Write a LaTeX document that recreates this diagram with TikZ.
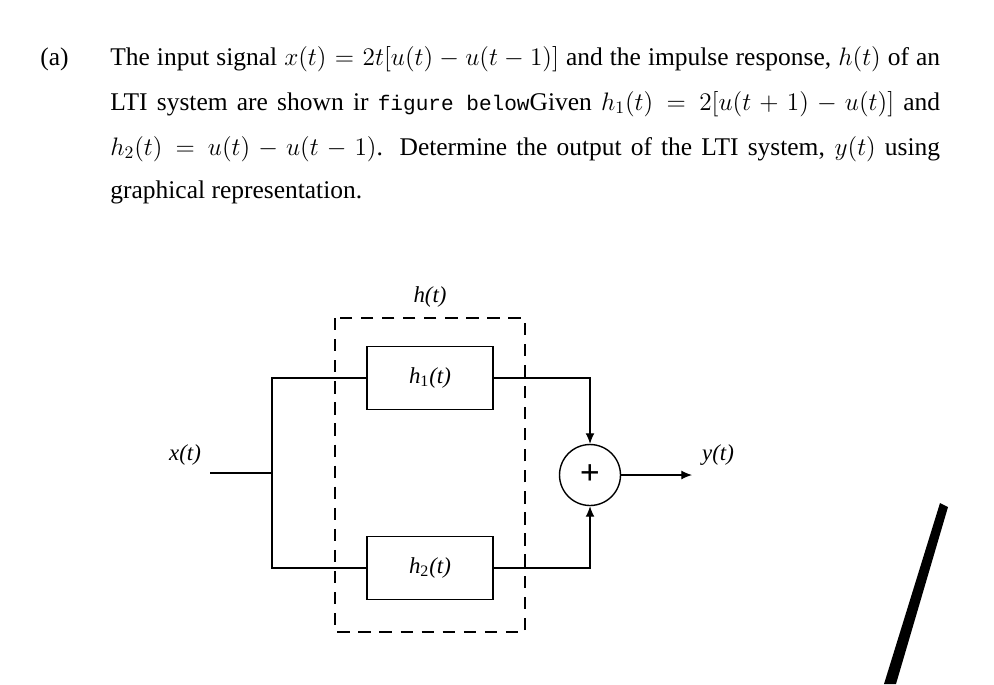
\documentclass[tikz,border=0pt]{standalone}
\usepackage{fontspec}
\setmainfont{Liberation Serif}
\setmonofont{Liberation Mono}
\usetikzlibrary{arrows.meta}
\begin{document}
\begin{tikzpicture}[x=0.02cm,y=-0.02cm,
  txt/.style={anchor=base west,inner sep=0,font=\fontsize{14.5}{17}\selectfont},
  blk/.style={draw,line width=0.6pt,minimum width=2.52cm,minimum height=1.26cm,font=\fontsize{13}{15}\selectfont\itshape},
  lab/.style={font=\fontsize{13}{15}\selectfont\itshape},
  wire/.style={line width=0.6pt},
  arr/.style={wire,-{Latex[length=6pt,width=5pt]}}]
\useasboundingbox (0,0) rectangle (994,684);
\fill[white] (0,0) rectangle (994,684);
\node[txt] (a) at (40,65) {(a)};
\node[txt] (l1) at (110,65) {\parbox{16.6cm}{\parfillskip=0pt The input signal $x(t)=2t[u(t)-u(t-1)]$ and the impulse response, $h(t)$ of an}};
\node[txt] (l2) at (110,110) {\parbox{16.6cm}{\parfillskip=0pt LTI system are shown ir {\ttfamily\fontsize{12}{14}\selectfont figure below}Given $h_1(t)=2[u(t+1)-u(t)]$ and}};
\node[txt] (l3) at (110,155) {\parbox{16.6cm}{\parfillskip=0pt $h_2(t)=u(t)-u(t-1)$. Determine the output of the LTI system, $y(t)$ using}};
\node[txt] (l4) at (110,198) {graphical representation.};
\draw[dashed,line width=0.6pt,dash pattern=on 7pt off 5pt] (335,318) rectangle (525,632);
\node[lab] (ht) at (430,297) {h(t)};
\node[blk] (h1) at (430,378) {h\textsubscript{\upshape 1}(t)};
\node[blk] (h2) at (430,568) {h\textsubscript{\upshape 2}(t)};
\node[draw,circle,line width=0.8pt,minimum size=1.22cm,inner sep=0,font=\fontsize{20}{20}\selectfont\bfseries] (s) at (590,475) {+};
\node[lab] (x) at (185,455) {x(t)};
\node[lab] (y) at (718,455) {y(t)};
\coordinate (in) at (210,473);
\coordinate (sp) at (272,473);
\draw[wire] (in) -- (sp);
\draw[wire] (sp) |- (h1.west);
\draw[wire] (sp) |- (h2.west);
\draw[arr] (h1.east) -| (s.north);
\draw[arr] (h2.east) -| (s.south);
\coordinate (out) at (692,475);
\draw[arr] (s.east) -- (out);
\fill (940,503) -- (948,507) -- (896,684) -- (884,684) -- cycle;
\end{tikzpicture}
\end{document}
